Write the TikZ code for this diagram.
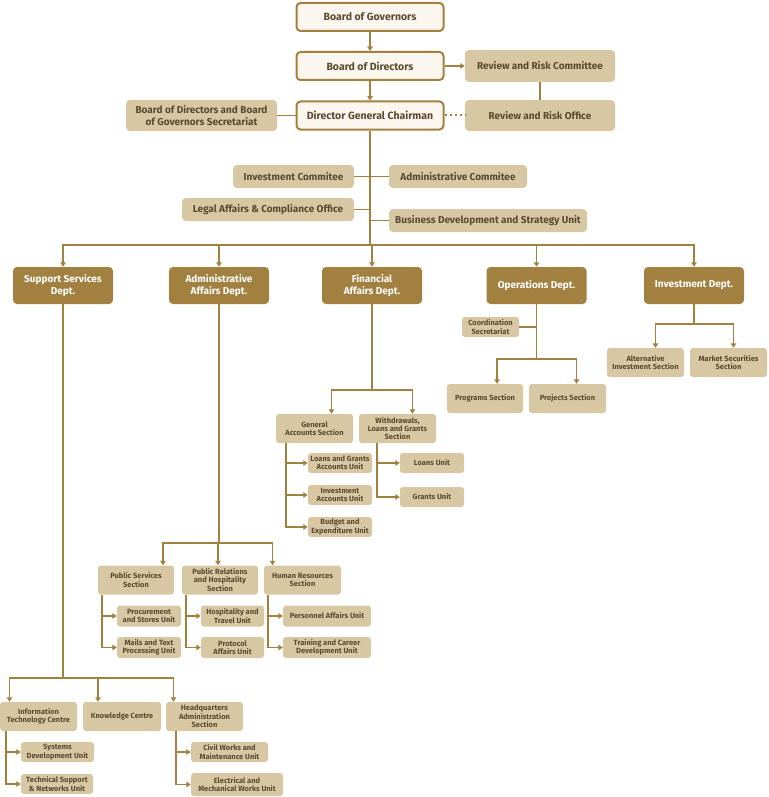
\documentclass[tikz,border=0pt]{standalone}
\usepackage{fontspec}
\setmainfont{Fira Sans}
\usetikzlibrary{positioning, arrows.meta}
\definecolor{gold}{HTML}{A2803F}
\definecolor{beige}{HTML}{D7C7A3}
\definecolor{cream}{HTML}{FBF7EE}
\definecolor{ink}{HTML}{5B4A30}
\begin{document}
\begin{tikzpicture}[x=1pt, y=-1pt,
        box/.style={rectangle, rounded corners=4pt, align=center, inner sep=1pt, text=ink, font=\fontsize{10}{11.5}\selectfont\bfseries},
        top/.style={box, draw=gold, line width=2pt, fill=cream, minimum width=147pt, minimum height=28pt, font=\fontsize{10.5}{12}\selectfont\bfseries},
        side/.style={box, fill=beige, minimum height=23pt},
        dept/.style={box, fill=gold, text=white, minimum width=100pt, minimum height=37pt, font=\fontsize{10}{11.5}\selectfont\bfseries},
        sect/.style={box, rounded corners=3pt, fill=beige, minimum width=77pt, minimum height=29pt, font=\fontsize{7.5}{8.4}\selectfont\bfseries},
        unit/.style={sect, minimum height=20pt},
        link/.style={draw=gold, line width=1.5pt},
        arr/.style={link, -{Triangle[width=5.5pt, length=4.5pt]}}
    ]
        \useasboundingbox (0,0) rectangle (768,797);

        % Board level
        \node[top] (bog) at (370,17) {Board of Governors};
        \node[top] (bod) at (370,66) {Board of Directors};
        \node[top] (dgc) at (370,115.5) {Director General Chairman};
        \node[side, minimum width=150pt, minimum height=32pt] (rrc) at (540,66) {Review and Risk Committee};
        \node[side, minimum width=150pt, minimum height=31pt] (rro) at (540,115.5) {Review and Risk Office};
        \node[side, minimum width=151pt, minimum height=31pt] (sec) at (201.5,115.5) {Board of Directors and Board\\of Governors Secretariat};

        \draw[arr] (bog) -- (bod);
        \draw[arr] (bod) -- (dgc);
        \draw[arr] (bod.east) -- (bod.east -| rrc.west);
        \draw[link] (rrc) -- (rro);
        \draw[link] (sec) -- (dgc);
        \draw[link, line width=2pt, dash pattern=on 2pt off 3pt] (dgc) -- (rro);

        % Committees and offices
        \node[side, minimum width=121pt] (ic) at (293.5,176.5) {Investment Commitee};
        \node[side, minimum width=138pt] (ac) at (458,176.5) {Administrative Commitee};
        \node[side, minimum width=172pt] (lac) at (268,209.5) {Legal Affairs \& Compliance Office};
        \node[side, minimum width=198pt] (bdsu) at (488,220.5) {Business Development and Strategy Unit};

        \coordinate (bus) at (370,245);
        \draw[link] (dgc) -- (bus);
        \foreach \n in {ic, lac} \draw[link] (\n.east) -- (\n.east -| bus);
        \foreach \n in {ac, bdsu} \draw[link] (\n.west) -- (\n.west -| bus);

        % Departments
        \node[dept] (ssd) at (63,285.5) {Support Services\\Dept.};
        \node[dept] (aad) at (219,285.5) {Administrative\\Affairs Dept.};
        \node[dept] (fad) at (372,285.5) {Financial\\Affairs Dept.};
        \node[dept] (opd) at (536.5,285.5) {Operations Dept.};
        \node[dept] (ind) at (694,285.5) {Investment Dept.};
        \foreach \n in {ssd, aad, fad, opd, ind} \draw[arr] (bus) -| (\n.north);

        % Operations Dept.
        \node[sect, minimum width=57pt, minimum height=20pt] (cs) at (490.5,327) {Coordination\\Secretariat};
        \node[sect, minimum width=76pt] (prog) at (485,398.5) {Programs Section};
        \node[sect] (proj) at (567.5,398.5) {Projects Section};
        \coordinate (opsbus) at (536.5,359);
        \draw[link] (opd) -- (opsbus);
        \draw[link] (cs.east) -- (cs.east -| opsbus);
        \draw[arr] (opsbus) -| ([xshift=12pt]prog.north);
        \draw[arr] (opsbus) -| ([xshift=9pt]proj.north);

        % Investment Dept.
        \node[sect] (ais) at (645.5,362.5) {Alternative\\Investment Section};
        \node[sect] (mss) at (728.5,362.5) {Market Securities\\Section};
        \coordinate (invbus) at (694,324);
        \draw[link] (ind) -- (invbus);
        \draw[arr] (invbus) -| ([xshift=10pt]ais.north);
        \draw[arr] (invbus) -| ([xshift=5pt]mss.north);

        % Financial Affairs Dept.
        \node[sect] (gas) at (314.5,428.5) {General\\Accounts Section};
        \node[sect] (wlgs) at (397.5,428.5) {Withdrawals,\\Loans and Grants\\Section};
        \node[unit, minimum width=64pt] (lgau) at (340,463) {Loans and Grants\\Accounts Unit};
        \node[unit, minimum width=64pt] (iau) at (340,495) {Investment\\Accounts Unit};
        \node[unit, minimum width=64pt] (beu) at (340,527) {Budget and\\Expenditure Unit};
        \node[unit, minimum width=64pt] (lu) at (432,463) {Loans Unit};
        \node[unit, minimum width=64pt] (gu) at (432,497) {Grants Unit};
        \coordinate (finbus) at (372,390);
        \draw[link] (fad) -- (finbus);
        \draw[arr] (finbus) -| ([xshift=17pt]gas.north);
        \draw[arr] (finbus) -| ([xshift=15pt]wlgs.north);
        \foreach \u in {lgau, iau, beu} \draw[arr] ([xshift=10pt]gas.south west) |- (\u.west);
        \foreach \u in {lu, gu} \draw[arr] ([xshift=18pt]wlgs.south west) |- (\u.west);

        % Administrative Affairs Dept.
        \node[sect, minimum width=76pt] (pss) at (136,580) {Public Services\\Section};
        \node[sect, minimum width=76pt] (prhs) at (220,580) {Public Relations\\and Hospitality\\Section};
        \node[sect] (hrs) at (302.5,580) {Human Resources\\Section};
        \node[unit, minimum width=64pt, minimum height=21pt] (psu) at (149,616) {Procurement\\and Stores Unit};
        \node[unit, minimum width=64pt, minimum height=21pt] (mtpu) at (149,647.5) {Mails and Text\\Processing Unit};
        \node[unit, minimum width=63pt, minimum height=21pt] (htu) at (232.5,616) {Hospitality and\\Travel Unit};
        \node[unit, minimum width=63pt, minimum height=21pt] (pau) at (232.5,647.5) {Protocol\\Affairs Unit};
        \node[unit, minimum width=88pt, minimum height=21pt] (pafu) at (327,616) {Personnel Affairs Unit};
        \node[unit, minimum width=88pt, minimum height=21pt] (tcdu) at (327,647.5) {Training and Career\\Development Unit};
        \coordinate (aadbus) at (219,543);
        \draw[link] (aad) -- (aadbus);
        \draw[arr] (aadbus) -| ([xshift=27pt]pss.north);
        \draw[arr] (aadbus) -| ([xshift=-2pt]prhs.north);
        \draw[arr] (aadbus) -| ([xshift=-30pt]hrs.north);
        \foreach \u in {psu, mtpu} \draw[arr] ([xshift=4pt]pss.south west) |- (\u.west);
        \foreach \u in {htu, pau} \draw[arr] ([xshift=4pt]prhs.south west) |- (\u.west);
        \foreach \u in {pafu, tcdu} \draw[arr] ([xshift=4pt]hrs.south west) |- (\u.west);

        % Support Services Dept.
        \node[sect] (itc) at (38.5,716.5) {Information\\Technology Centre};
        \node[sect, minimum width=78pt] (kc) at (122,716.5) {Knowledge Centre};
        \node[sect] (has) at (204.5,716.5) {Headquarters\\Administration\\Section};
        \node[unit, minimum width=73pt] (sdu) at (57.5,752) {Systems\\Development Unit};
        \node[unit, minimum width=72pt] (tsnu) at (57,784) {Technical Support\\\& Networks Unit};
        \node[unit, minimum width=77pt] (cwmu) at (229.5,752) {Civil Works and\\Maintenance Unit};
        \node[unit, minimum width=92pt, minimum height=23pt] (emwu) at (237,784.5) {Electrical and\\Mechanical Works Unit};
        \coordinate (ssbus) at (63,678);
        \draw[link] (ssd) -- (ssbus);
        \draw[arr] (ssbus) -| ([xshift=-29pt]itc.north);
        \draw[arr] (ssbus) -| ([xshift=-24pt]kc.north);
        \draw[arr] (ssbus) -| ([xshift=-31pt]has.north);
        \foreach \u in {sdu, tsnu} \draw[arr] ([xshift=6pt]itc.south west) |- (\u.west);
        \foreach \u in {cwmu, emwu} \draw[arr] ([xshift=10pt]has.south west) |- (\u.west);

    \end{tikzpicture}
\end{document}
